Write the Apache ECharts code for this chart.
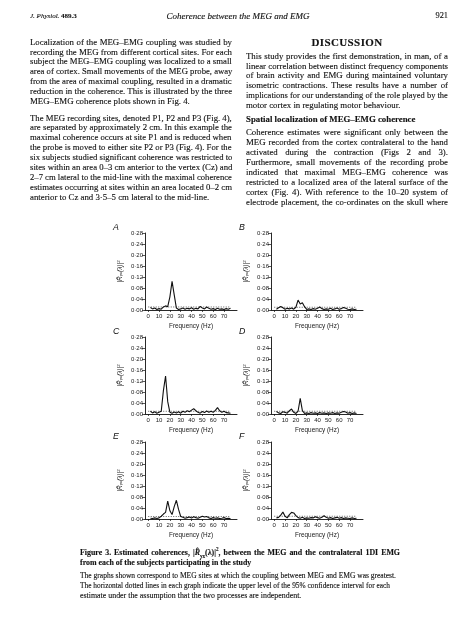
<!DOCTYPE html>
<html><head><meta charset="utf-8">
<script src="https://cdn.jsdelivr.net/npm/echarts@6/dist/echarts.min.js"></script>
<style>
html,body{margin:0;padding:0;background:#fff;}
#page{position:relative;width:474px;height:632px;overflow:hidden;font-family:"Liberation Serif","DejaVu Serif",serif;color:#111;}
#chart{position:absolute;left:0;top:0;width:474px;height:632px;}
.t{position:absolute;white-space:nowrap;line-height:10px;height:10px;font-size:8.8px;-webkit-text-stroke:0.12px #111;}
.j{text-align:justify;text-align-last:justify;}
.t sub,.t sup{font-size:5.2px;line-height:0;}
</style></head><body>
<div id="page"><div id="chart"></div></div>
<script>
// ---------- data ----------
const freqHz = [2,4,6,8,10,12,14,16,18,20,22,24,26,28,30,32,34,36,38,40,42,44,46,48,50,52,54,56,58,60,62,64,66,68,70,72,74,76];
const coherenceA = [0.009,0.004,0.007,0.002,0.005,0.003,0.011,0.015,0.012,0.048,0.104,0.055,0.007,0.002,0.004,0.007,0.003,0.006,0.004,0.008,0.003,0.006,0.004,0.013,0.007,0.004,0.011,0.006,0.003,0.005,0.002,0.006,0.003,0.004,0.002,0.005,0.003,0.006];
const coherenceB = [0.003,0.008,0.013,0.008,0.003,0.006,0.004,0.007,0.003,0.010,0.036,0.022,0.026,0.012,0.002,0.004,0.002,0.005,0.003,0.006,0.011,0.005,0.002,0.004,0.003,0.006,0.002,0.004,0.007,0.003,0.005,0.009,0.006,0.003,0.002,0.004,0.002,0.003];
const coherenceC = [0.010,0.004,0.008,0.003,0.006,0.010,0.085,0.138,0.045,0.006,0.003,0.007,0.004,0.008,0.003,0.010,0.006,0.012,0.008,0.014,0.019,0.012,0.006,0.003,0.009,0.005,0.011,0.006,0.010,0.006,0.013,0.023,0.012,0.006,0.010,0.005,0.004,0.003];
const coherenceD = [0.009,0.004,0.002,0.008,0.006,0.003,0.012,0.018,0.006,0.002,0.010,0.057,0.012,0.002,0.004,0.002,0.005,0.003,0.004,0.002,0.005,0.003,0.004,0.002,0.004,0.003,0.005,0.002,0.004,0.003,0.006,0.009,0.007,0.003,0.005,0.002,0.004,0.002];
const coherenceE = [0.003,0.002,0.004,0.002,0.004,0.010,0.018,0.024,0.065,0.030,0.016,0.045,0.068,0.035,0.009,0.006,0.003,0.005,0.007,0.004,0.008,0.005,0.003,0.006,0.010,0.007,0.009,0.004,0.002,0.005,0.003,0.004,0.002,0.003,0.005,0.002,0.003,0.002];
const coherenceF = [0.004,0.006,0.014,0.025,0.010,0.004,0.016,0.024,0.022,0.012,0.005,0.003,0.006,0.002,0.004,0.003,0.005,0.004,0.008,0.005,0.003,0.006,0.012,0.006,0.003,0.005,0.002,0.004,0.006,0.003,0.005,0.002,0.004,0.003,0.002,0.004,0.002,0.003];
const panelSeries = [coherenceA, coherenceB, coherenceC, coherenceD, coherenceE, coherenceF];
const panelLetters = ['A','B','C','D','E','F'];
const confidenceLevels = [0.011,0.010,0.010,0.010,0.009,0.010];
const confidenceRangeHz = [0, 76];
const xTicks = [0,10,20,30,40,50,60,70];
const yTicks = [0,0.04,0.08,0.12,0.16,0.20,0.24,0.28];

// ---------- page text ----------
const leftPara1 = [
 "Localization of the MEG\u2013EMG coupling was studied by",
 "recording the MEG from different cortical sites. For each",
 "subject the MEG\u2013EMG coupling was localized to a small",
 "area of cortex. Small movements of the MEG probe, away",
 "from the area of maximal coupling, resulted in a dramatic",
 "reduction in the coherence. This is illustrated by the three",
 "MEG\u2013EMG coherence plots shown in Fig. 4."];
const leftPara2 = [
 "The MEG recording sites, denoted P1, P2 and P3 (Fig. 4),",
 "are separated by approximately 2 cm. In this example the",
 "maximal coherence occurs at site P1 and is reduced when",
 "the probe is moved to either site P2 or P3 (Fig. 4). For the",
 "six subjects studied significant coherence was restricted to",
 "sites within an area 0\u20133 cm anterior to the vertex (Cz) and",
 "2\u20137 cm lateral to the mid-line with the maximal coherence",
 "estimates occurring at sites within an area located 0\u20132 cm",
 "anterior to Cz and 3\u00b75\u20135 cm lateral to the mid-line."];
const rightPara1 = [
 "This study provides the first demonstration, in man, of a",
 "linear correlation between distinct frequency components",
 "of brain activity and EMG during maintained voluntary",
 "isometric contractions. These results have a number of",
 "implications for our understanding of the role played by the",
 "motor cortex in regulating motor behaviour."];
const rightPara2 = [
 "Coherence estimates were significant only between the",
 "MEG recorded from the cortex contralateral to the hand",
 "activated during the contraction (Figs 2 and 3).",
 "Furthermore, small movements of the recording probe",
 "indicated that maximal MEG\u2013EMG coherence was",
 "restricted to a localized area of the lateral surface of the",
 "cortex (Fig. 4). With reference to the 10\u201320 system of",
 "electrode placement, the co-ordinates on the skull where"];

const page = document.getElementById('page');
function addLine(html, x, yc, w, justify, style) {
  const d = document.createElement('div');
  d.className = 't' + (justify ? ' j' : '');
  d.innerHTML = html;
  d.style.left = x + 'px';
  d.style.top = (yc - 5) + 'px';
  if (w) d.style.width = w + 'px';
  if (style) Object.assign(d.style, style);
  page.appendChild(d);
  return d;
}
function addPara(lines, x, y0, step, w, lastLeft) {
  lines.forEach((s, i) => {
    const last = lastLeft && i === lines.length - 1;
    addLine(s, x, y0 + step * i, last ? null : w, !last);
  });
}
addLine("<i>J. Physiol.</i> <b>489.3</b>", 30, 16, null, false, {fontSize:'7px'});
addLine("<i>Coherence between the MEG and EMG</i>", 138, 16, 200, false, {fontSize:'9px', textAlign:'center'});
addLine("921", 420, 16, 28, false, {fontSize:'8.4px', textAlign:'right'});

addPara(leftPara1, 30, 41.7, 9.85, 202, true);
addPara(leftPara2, 30, 117.5, 9.9, 202, true);
addLine("<b>DISCUSSION</b>", 246, 41.5, 202, false, {fontSize:'11px', textAlign:'center', letterSpacing:'0.4px', height:'12px', lineHeight:'12px', top:'35.5px'});
addPara(rightPara1, 246, 55.7, 9.85, 202, true);
addLine("<b>Spatial localization of MEG\u2013EMG coherence</b>", 246, 118.5, null, false, {fontSize:'8.8px'});
addPara(rightPara2, 246, 131.7, 10.1, 202, false);

const capStyle = {fontSize:'7.9px'};
addLine("<b>Figure 3. Estimated coherences, |<i>R\u0302</i><sub>yx</sub>(\u03bb)|<sup>2</sup>, between the MEG and the contralateral 1DI EMG</b>", 80, 553, 320, true, capStyle);
addLine("<b>from each of the subjects participating in the study</b>", 80, 563, null, false, capStyle);
addLine("The graphs shown correspond to MEG sites at which the coupling between MEG and EMG was greatest.", 80, 576, 316, true, capStyle);
addLine("The horizontal dotted lines in each graph indicate the upper level of the 95% confidence interval for each", 80, 586, 310, true, capStyle);
addLine("estimate under the assumption that the two processes are independent.", 80, 596, null, false, capStyle);

// compress over-wide justified lines
document.querySelectorAll('.t.j').forEach(d => {
  const W = d.clientWidth;
  if (d.scrollWidth > W + 0.5) {
    const nat = d.scrollWidth;
    d.style.textAlign = 'left'; d.style.textAlignLast = 'left';
    d.style.width = nat + 'px';
    d.style.transformOrigin = '0 0';
    d.style.transform = 'scaleX(' + (W / nat) + ')';
  }
});

// ---------- chart ----------
const lefts = [145, 271];
const tops = [233, 337, 442];
const PW = 92, PH = 77;
const axisFont = '"Liberation Sans", Arial, sans-serif';
const ink = '#111';
const grids = [], xAxes = [], yAxes = [], series = [], graphics = [];
panelSeries.forEach((vals, i) => {
  const L = lefts[i % 2], T = tops[Math.floor(i / 2)];
  grids.push({left: L, top: T, width: PW, height: PH, containLabel: false});
  xAxes.push({
    gridIndex: i, type: 'value', min: -3, max: 82,
    axisLine: {show: true, onZero: false, lineStyle: {color: ink, width: 0.9}},
    axisTick: {show: true, customValues: xTicks, length: 2, lineStyle: {color: ink, width: 0.7}},
    axisLabel: {customValues: xTicks, fontSize: 6, margin: 3, color: '#1a1a1a', fontFamily: axisFont},
    splitLine: {show: false},
    name: 'Frequency (Hz)', nameLocation: 'middle', nameGap: 13,
    nameTextStyle: {fontSize: 6.4, color: '#1a1a1a', fontFamily: axisFont}
  });
  yAxes.push({
    gridIndex: i, type: 'value', min: 0, max: 0.28, interval: 0.04,
    axisLine: {show: true, onZero: false, lineStyle: {color: ink, width: 0.9}},
    axisTick: {show: true, length: 3, lineStyle: {color: ink, width: 0.7}},
    axisLabel: {fontSize: 6, margin: 2, color: '#1a1a1a', fontFamily: axisFont,
      formatter: v => v.toFixed(2).replace('.', '\u00b7')},
    splitLine: {show: false},
    name: '{a|\u007cR\u0302}{b|yx}{a|(\u03bb)\u007c}{c|2}', nameLocation: 'middle', nameGap: 22, nameRotate: 90,
    nameTextStyle: {color: '#1a1a1a', fontFamily: axisFont, rich: {
      a: {fontSize: 6.4, fontStyle: 'italic', fontFamily: axisFont, color: '#1a1a1a'},
      b: {fontSize: 4.4, fontFamily: axisFont, color: '#1a1a1a', verticalAlign: 'bottom'},
      c: {fontSize: 4.4, fontFamily: axisFont, color: '#1a1a1a', verticalAlign: 'top'}
    }}
  });
  series.push({
    type: 'line', xAxisIndex: i, yAxisIndex: i, showSymbol: false, symbol: 'none',
    data: freqHz.map((f, k) => [f, vals[k]]),
    lineStyle: {color: ink, width: 1.1}, z: 3, silent: true
  });
  series.push({
    type: 'line', xAxisIndex: i, yAxisIndex: i, showSymbol: false, symbol: 'none',
    data: confidenceRangeHz.map(f => [f, confidenceLevels[i]]),
    lineStyle: {color: '#333', width: 0.8, type: [1, 1.5]}, z: 2, silent: true
  });
  graphics.push({
    type: 'text', left: L - 32, top: T - 10,
    style: {text: panelLetters[i], font: 'italic 8.8px ' + axisFont, fill: '#111'}
  });
});

const chart = echarts.init(document.getElementById('chart'), null, {renderer: 'canvas'});
chart.setOption({
  animation: false,
  backgroundColor: 'transparent',
  grid: grids, xAxis: xAxes, yAxis: yAxes, series: series, graphic: graphics
});
</script>
</body></html>
